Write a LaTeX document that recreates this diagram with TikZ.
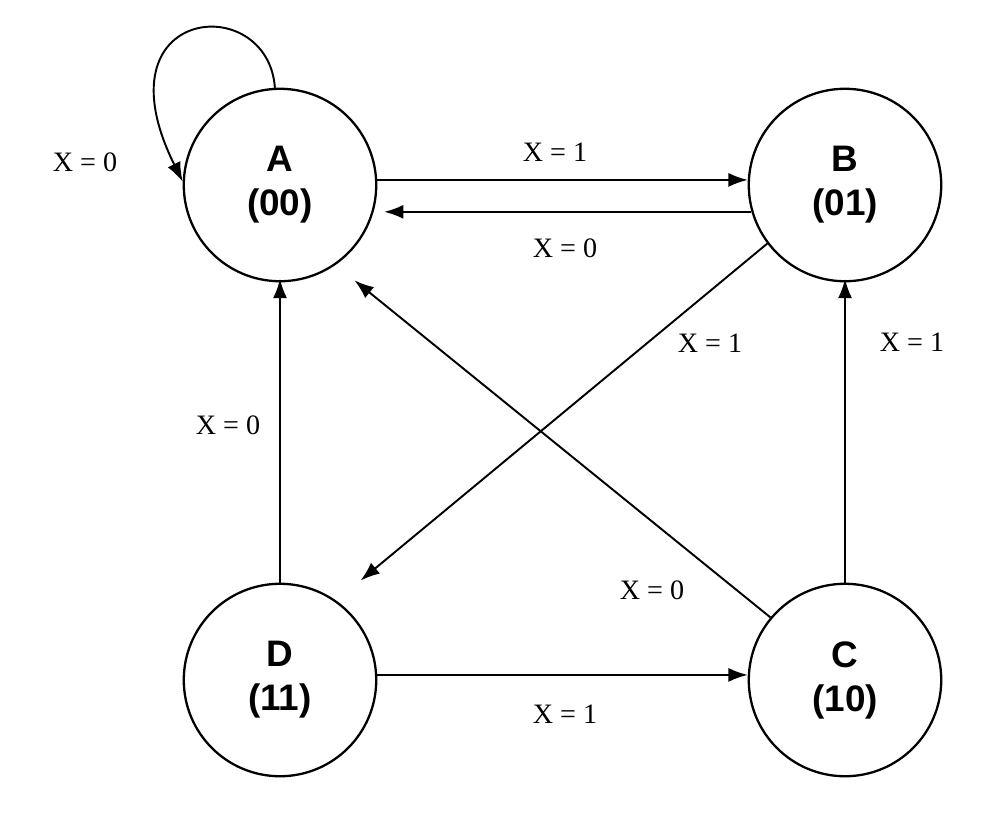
\documentclass[tikz,border=0pt]{standalone}
\usepackage{fontspec}
\setmainfont{Liberation Serif}
\newfontfamily\statefont{Liberation Sans}
\usetikzlibrary{arrows.meta}

\begin{document}
\begin{tikzpicture}[x=0.02cm, y=-0.02cm,
  state/.style={draw, line width=1.3pt, circle, minimum size=3.85cm, align=center,
    font=\statefont\fontsize{21}{25}\selectfont\bfseries},
  lbl/.style={font=\fontsize{16}{19}\selectfont},
  trans/.style={line width=1.1pt, -{Latex[length=11pt, width=8pt]}}]
\useasboundingbox (0,0) rectangle (996,822);

% States
\node[state] (A) at (280,185) {A\\(00)};
\node[state] (B) at (845,185) {B\\(01)};
\node[state] (D) at (280,680) {D\\(11)};
\node[state] (C) at (845,680) {C\\(10)};

% Corner points of the diagonals
\coordinate (dEnd) at ([shift={(51:2.56cm)}]D.center);
\coordinate (aEnd) at ([shift={(-52:2.42cm)}]A.center);

% Transitions
\draw[trans] (A.3) -- (B.177);
\draw[trans] (B.196) -- ([xshift=6pt]A.-16);
\draw[trans] (B.217) -- (dEnd);
\draw[trans] (C.140) -- (aEnd);
\draw[trans] (C.90) -- ([yshift=2pt]B.270);
\draw[trans] (D.90) -- ([yshift=2pt]A.270);
\draw[trans] (D.3) -- (C.177);
\draw[trans] (A.93) .. controls (268,-10) and (95,5) .. (A.178);

% Labels
\node[lbl] (l1) at (555,152) {X = 1};
\node[lbl] (l2) at (565,248) {X = 0};
\node[lbl] (l3) at (710,343) {X = 1};
\node[lbl] (l4) at (652,590) {X = 0};
\node[lbl] (l5) at (912,342) {X = 1};
\node[lbl] (l6) at (228,425) {X = 0};
\node[lbl] (l7) at (565,714) {X = 1};
\node[lbl] (l8) at (85,162) {X = 0};
\end{tikzpicture}
\end{document}
